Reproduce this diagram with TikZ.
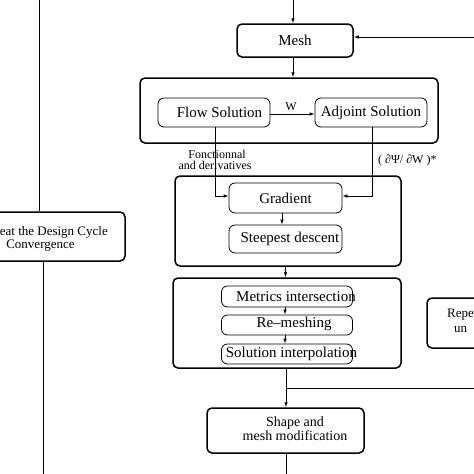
\documentclass[tikz,border=0pt]{standalone}
\usepackage{fontspec}
\setmainfont{Liberation Serif}
\usetikzlibrary{arrows.meta}
\begin{document}
\begin{tikzpicture}[x=1pt,y=-1pt,
  thickbox/.style={draw,line width=1.5pt,rounded corners=5pt,inner sep=0pt},
  thinbox/.style={draw,line width=0.8pt,rounded corners=6pt,inner sep=0pt},
  txt/.style={font=\fontsize{15}{15}\selectfont,inner sep=0pt},
  midtxt/.style={font=\fontsize{14}{12.5}\selectfont,inner sep=0pt,align=center},
  sidetxt/.style={font=\fontsize{13}{13}\selectfont,inner sep=0pt},
  small/.style={font=\fontsize{12}{11}\selectfont,inner sep=0pt},
  arr/.style={line width=0.8pt,-{Latex[length=5pt,width=3.5pt]}},
  ln/.style={line width=0.8pt}]
\useasboundingbox (0,0) rectangle (474,474);
\clip (0,0) rectangle (474,474);
% boxes
\node[thickbox,minimum width=116pt,minimum height=33pt,txt] (mesh) at (295,40.5) {Mesh};
\node[thickbox,minimum width=298pt,minimum height=65pt] (box1) at (289,110.5) {};
\node[thinbox,minimum width=112pt,minimum height=29pt] (flow) at (214,112.5) {};
\node[txt] (flowt) at (219.5,112.5) {Flow Solution};
\node[thinbox,minimum width=112pt,minimum height=29pt,txt] (adj) at (371,112.5) {Adjoint Solution};
\node[thickbox,minimum width=226pt,minimum height=90pt] (box2) at (288,221) {};
\node[thinbox,minimum width=113pt,minimum height=30pt,txt] (grad) at (285.5,198) {Gradient};
\node[thinbox,minimum width=113pt,minimum height=28pt] (steep) at (285.5,239) {};
\node[txt] (steept) at (290,239) {Steepest descent};
\node[thickbox,minimum width=228pt,minimum height=90pt] (box3) at (287,323) {};
\node[thinbox,minimum width=131pt,minimum height=21pt] (metr) at (287,296.5) {};
\node[txt] (metrt) at (296,296.5) {Metrics intersection};
\node[thinbox,minimum width=131pt,minimum height=20pt] (remesh) at (287,325) {};
\node[txt] (remesht) at (294,324) {Re–meshing};
\node[thinbox,minimum width=131pt,minimum height=20pt] (interp) at (287,354) {};
\node[txt] (interpt) at (291.5,353.5) {Solution interpolation};
\node[thickbox,minimum width=157pt,minimum height=45pt] (shape) at (285.5,430.5) {};
\node[midtxt] (shapet) at (295,429) {Shape and\\mesh modification};
\node[thickbox,minimum width=185pt,minimum height=49pt] (lbox) at (32.5,236.5) {};
\node[sidetxt,anchor=base east] (lt1) at (108,235.3) {eat the Design Cycle};
\node[sidetxt,anchor=base] (lt2) at (40.5,248) {Convergence};
\node[thickbox,minimum width=113pt,minimum height=50pt] (rbox) at (483.5,323) {};
\node[sidetxt,anchor=base west] (rt1) at (447,317) {Repe};
\node[sidetxt,anchor=base west] (rt2) at (454,332) {un};
% labels
\node[small,anchor=base] (wlab) at (291,110) {W};
\node[small,anchor=base] (fl1) at (217,158) {Fonctionnal};
\node[small,anchor=base] (fl2) at (215,169) {and derivatives};
\node[small,anchor=base west] (dpsi) at (378,163) {( ∂Ψ/ ∂W )*};
% coordinates
\coordinate (top) at (293,0);
\coordinate (rin) at (474,37);
\coordinate (c2) at (285.5,0);
\coordinate (br) at (286,388);
\coordinate (rout) at (474,388);
\coordinate (bot) at (286,474);
\coordinate (ltop) at (39.5,0);
\coordinate (lbot) at (43,474);
% connectors
\draw[arr] (top) -- (top |- mesh.north);
\draw[arr] (rin) -- (rin -| mesh.east);
\draw[arr] (mesh.south -| top) -- (top |- box1.north);
\draw[arr] (flow.east |- 0,114) -- (adj.west |- 0,114);
\draw[arr] ([xshift=1pt]flow.south) |- ([yshift=2pt]grad.west);
\draw[arr] ([xshift=1pt]adj.south) |- ([yshift=2pt]grad.east);
\draw[arr] ([xshift=-3.5pt]grad.south) -- ([xshift=-3.5pt]steep.north);
\draw[arr] (box2.south -| c2) -- (c2 |- box3.north);
\draw[arr] ([xshift=-2pt]metr.south) -- ([xshift=-2pt]remesh.north);
\draw[arr] ([xshift=-2pt]remesh.south) -- ([xshift=-2pt]interp.north);
\draw[arr] (box3.south -| br) -- (br |- shape.north);
\draw[ln] (br) -- (rout);
\draw[ln] (shape.south -| bot) -- (bot);
\draw[ln] (ltop) -- (ltop |- lbox.north);
\draw[ln] (lbox.south -| lbot) -- (lbot);
\end{tikzpicture}
\end{document}
